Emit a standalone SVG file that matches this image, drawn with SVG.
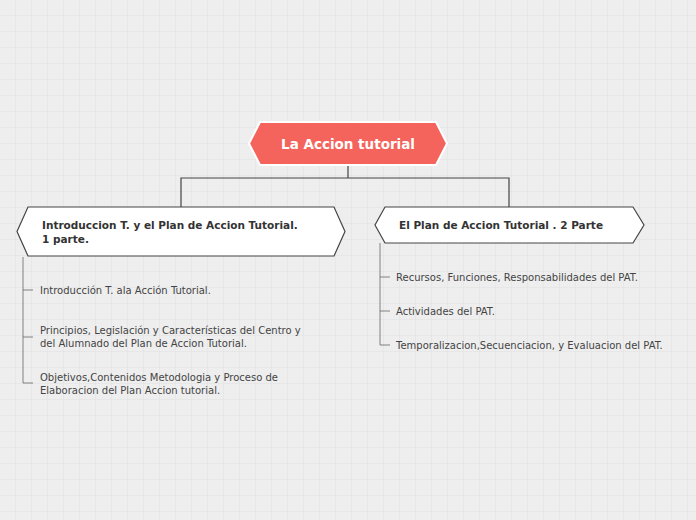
<svg xmlns="http://www.w3.org/2000/svg" width="696" height="520" viewBox="0 0 696 520">
<defs>
<pattern id="g" width="16" height="16" patternUnits="userSpaceOnUse"><path d="M16 0V16H0" fill="none" stroke="#e0e0e0" stroke-width="1"/></pattern>
<style>
.t{font-family:"DejaVu Sans",sans-serif;font-size:10px;fill:#444}
.b{font-family:"DejaVu Sans",sans-serif;font-size:10.5px;font-weight:bold;fill:#333}
.n{fill:#fff;stroke:#444;stroke-width:1.2}
.c{fill:none;stroke:#444;stroke-width:1.2}
.l{fill:none;stroke:#666;stroke-width:0.8}
</style>
</defs>
<rect width="696" height="520" fill="#eeeeee"/>
<rect width="696" height="520" fill="url(#g)"/>
<g id="connectors">
<path class="c" d="M348 165V178H181V207M348 178H509V207"/>
<path class="l" d="M23 257V383M23 290H33M23 337H33M23 383H33"/>
<path class="l" d="M380 243V345M380 277H390M380 311H390M380 345H390"/>
</g>
<g id="root">
<polygon points="260,122 436,122 447,143.5 436,165 260,165 249,143.5" fill="#f4645c" stroke="#fff" stroke-width="2"/>
<text x="348" y="149" text-anchor="middle" font-family="DejaVu Sans,sans-serif" font-size="13.5" font-weight="bold" fill="#fff">La Accion tutorial</text>
</g>
<g id="left">
<polygon class="n" points="28,207 334,207 345,231.5 334,256 28,256 17,231.5"/>
<text class="b" x="42" y="229">Introduccion T. y el Plan de Accion Tutorial.</text>
<text class="b" x="42" y="243">1 parte.</text>
</g>
<g id="right">
<polygon class="n" points="385,207 633,207 644,225 633,243 385,243 375,225"/>
<text class="b" x="399" y="229">El Plan de Accion Tutorial .  2 Parte</text>
</g>
<g id="l1"><text class="t" x="40" y="294">Introducción T. ala Acción Tutorial.</text></g>
<g id="l2"><text class="t" x="40" y="334">Principios, Legislación y Características del Centro y</text><text class="t" x="40" y="347">del Alumnado del Plan de Accion Tutorial.</text></g>
<g id="l3"><text class="t" x="40" y="381">Objetivos,Contenidos Metodologia y Proceso de</text><text class="t" x="40" y="394">Elaboracion del Plan Accion tutorial.</text></g>
<g id="r1"><text class="t" x="396" y="281">Recursos, Funciones, Responsabilidades del PAT.</text></g>
<g id="r2"><text class="t" x="396" y="315">Actividades del PAT.</text></g>
<g id="r3"><text class="t" x="396" y="349">Temporalizacion,Secuenciacion, y Evaluacion del PAT.</text></g>
</svg>
